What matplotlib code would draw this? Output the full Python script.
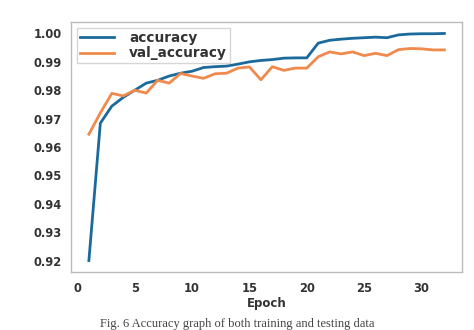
import numpy as np
import matplotlib
matplotlib.use('Agg')
import matplotlib.pyplot as plt

epochs = list(range(1, 33))
accuracy = [0.9200, 0.9684, 0.9744, 0.9775, 0.9800, 0.9825, 0.9835, 0.9850,
            0.9860, 0.9867, 0.9880, 0.9883, 0.9885, 0.9892, 0.9900, 0.9905,
            0.9908, 0.9913, 0.9914, 0.9914, 0.9966, 0.9976, 0.9980, 0.9983,
            0.9985, 0.9987, 0.9985, 0.9995, 0.9998, 0.9999, 0.9999, 1.0000]
val_accuracy = [0.9645, 0.9720, 0.9789, 0.9780, 0.9800, 0.9790, 0.9835, 0.9825,
                0.9859, 0.9850, 0.9842, 0.9858, 0.9860, 0.9878, 0.9882, 0.9837,
                0.9883, 0.9870, 0.9878, 0.9878, 0.9918, 0.9935, 0.9928, 0.9935,
                0.9922, 0.9930, 0.9922, 0.9943, 0.9947, 0.9946, 0.9942, 0.9942]
yticks = [0.92, 0.93, 0.94, 0.95, 0.96, 0.97, 0.98, 0.99, 1.00]

plt.rcParams['font.family'] = ['DejaVu Sans']
plt.rcParams['font.weight'] = 'bold'

fig = plt.figure(figsize=(4.74, 3.30), dpi=100)
ax = fig.add_axes([0.150, 0.176, 0.825, 0.757])

ax.plot(epochs, accuracy, color='#1b6a9c', lw=2, label='accuracy')
ax.plot(epochs, val_accuracy, color='#ef8a4c', lw=2, label='val_accuracy')

ax.set_yticks(yticks)
ax.set_yticklabels([f'{v:.2f}' for v in yticks])
ax.set_xticks([0, 5, 10, 15, 20, 25, 30])
ax.tick_params(length=0, labelsize=8.3, pad=7, colors='#333333')
ax.set_xlabel('Epoch', fontsize=8.5, fontweight='bold', labelpad=2, color='#333333')

for s in ax.spines.values():
    s.set_color('#bbbbbb')
    s.set_linewidth(1.0)

leg = ax.legend(loc='upper left', fontsize=9.8, frameon=True, borderpad=0.2,
                handlelength=2.5, handletextpad=1.1, borderaxespad=0.45,
                labelspacing=0.1)
leg.get_frame().set_edgecolor('#cccccc')
leg.get_frame().set_boxstyle('square', pad=0)
for t in leg.get_texts():
    t.set_color('#333333')

fig.text(0.5, 0.018, 'Fig. 6 Accuracy graph of both training and testing data',
         ha='center', va='center', family='Liberation Serif', fontweight='normal',
         fontsize=9, color='#444444')

fig.savefig('out.png', dpi=100)
